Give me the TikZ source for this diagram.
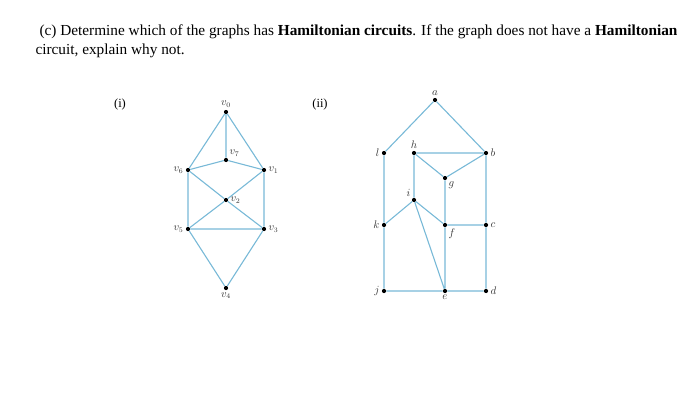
\documentclass[tikz,border=0pt]{standalone}
\usepackage{fontspec}
\setmainfont{Liberation Serif}
\begin{document}
\begin{tikzpicture}[x=1pt,y=-1pt,
  ed/.style={draw=edgeblue,line width=1.1pt},
  vx/.style={circle,fill=black,inner sep=0pt,minimum size=4.2pt},
  lb/.style={font=\itshape\fontsize{10.5}{11}\selectfont,text=black!80}]
\definecolor{edgeblue}{RGB}{120,185,215}
\useasboundingbox (0,0) rectangle (700,407);
\node[anchor=west,font=\fontsize{15.3}{18}\selectfont] (t1) at (36,32) {(c) Determine which of the graphs has \textbf{Hamiltonian circuits}. If the graph does not have a \textbf{Hamiltonian}};
\node[anchor=west,font=\fontsize{15.3}{18}\selectfont] (t2) at (32,51) {circuit, explain why not.};
\node[font=\fontsize{12.5}{14}\selectfont] (l1) at (120,104) {(i)};
\node[font=\fontsize{12.5}{14}\selectfont] (l2) at (320,104) {(ii)};
% graph i
\node[vx] (v0) at (226,112) {};
\node[vx] (v7) at (226,160) {};
\node[vx] (v6) at (188,170) {};
\node[vx] (v1) at (264,170) {};
\node[vx] (v2) at (226,200) {};
\node[vx] (v5) at (188,229) {};
\node[vx] (v3) at (264,229) {};
\node[vx] (v4) at (226,288) {};
\node[lb,above=1pt] at (v0) {$v_0$};
\node[lb,above right=0pt] at (v7) {$v_7$};
\node[lb,left=1pt] at (v6) {$v_6$};
\node[lb,right=1pt] at (v1) {$v_1$};
\node[lb,right=1pt] at (v2) {$v_2$};
\node[lb,left=1pt] at (v5) {$v_5$};
\node[lb,right=1pt] at (v3) {$v_3$};
\node[lb,below=1pt] at (v4) {$v_4$};
\draw[ed] (v0)--(v6) (v0)--(v7) (v0)--(v1) (v7)--(v6) (v7)--(v1)
  (v6)--(v5) (v1)--(v3) (v6)--(v2) (v2)--(v3) (v1)--(v2) (v2)--(v5)
  (v5)--(v3) (v5)--(v4) (v3)--(v4);
% graph ii
\node[vx] (a) at (435,100) {};
\node[vx] (l) at (384,153) {};
\node[vx] (h) at (414,153) {};
\node[vx] (b) at (486,153) {};
\node[vx] (g) at (445,178) {};
\node[vx] (i) at (414,200) {};
\node[vx] (k) at (384,225) {};
\node[vx] (f) at (445,225) {};
\node[vx] (c) at (486,225) {};
\node[vx] (j) at (384,291) {};
\node[vx] (e) at (445,291) {};
\node[vx] (d) at (486,291) {};
\node[lb,above=1pt] at (a) {$a$};
\node[lb,left=1pt] at (l) {$l$};
\node[lb,above=1pt] at (h) {$h$};
\node[lb,right=1pt] at (b) {$b$};
\node[lb,below right=0pt] at (g) {$g$};
\node[lb,above left=0pt] at (i) {$i$};
\node[lb,left=1pt] at (k) {$k$};
\node[lb,below right=0pt] at (f) {$f$};
\node[lb,right=1pt] at (c) {$c$};
\node[lb,left=1pt] at (j) {$j$};
\node[lb,below=0pt] at (e) {$e$};
\node[lb,right=1pt] at (d) {$d$};
\draw[ed] (a)--(l) (a)--(b) (h)--(b) (h)--(g) (g)--(b) (h)--(i)
  (g)--(f) (i)--(k) (i)--(f) (i)--(e) (f)--(c) (l)--(k) (k)--(j)
  (b)--(c) (c)--(d) (j)--(e) (e)--(d) (f)--(e);
\end{tikzpicture}
\end{document}
